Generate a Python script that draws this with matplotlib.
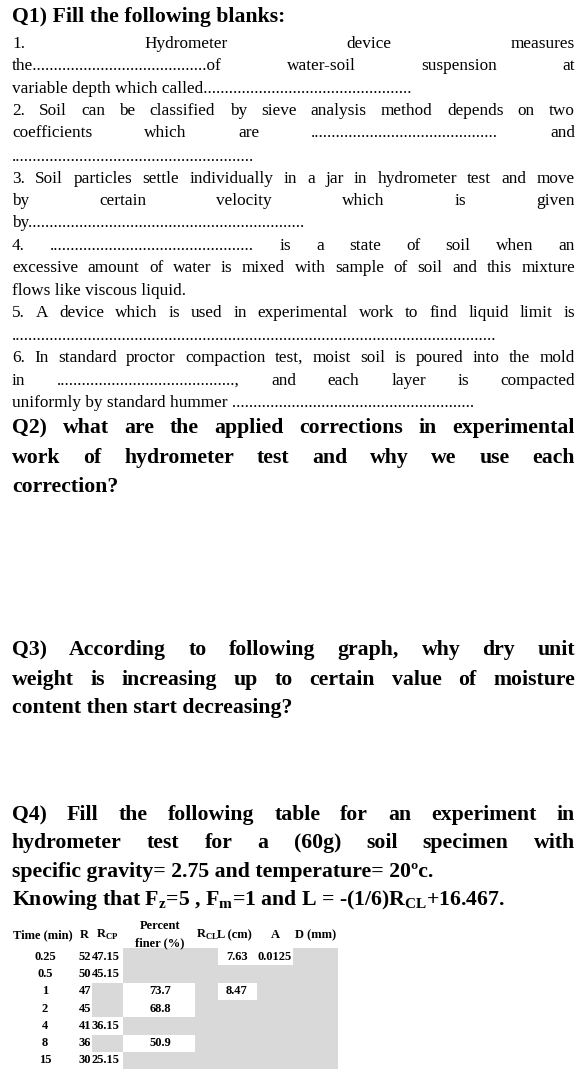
import matplotlib
matplotlib.use("Agg")
import matplotlib.pyplot as plt
from matplotlib.patches import Rectangle

W, H = 580, 1079
fig = plt.figure(figsize=(5.8, 10.79), dpi=100)
FONT = "Liberation Serif"
L, R = 12, 575
BODY, HEAD = 12.4, 15.7

def fy(y): return 1 - y / H
def fx(x): return x / W

r = fig.canvas.get_renderer()

def kwargs(size, bold):
    return dict(fontsize=size, fontfamily=FONT, fontweight="bold" if bold else "normal", va="center")

def width(text, size, bold):
    t = fig.text(0, 0, text, **kwargs(size, bold))
    w = t.get_window_extent(r).width
    t.remove()
    return w

def line(y, text, size=BODY, bold=False, justify=True):
    if not justify:
        fig.text(fx(L), fy(y), text, ha="left", **kwargs(size, bold))
        return
    words = text.split(" ")
    while True:
        ws = [width(w, size, bold) for w in words]
        gap = (R - L - sum(ws)) / max(len(ws) - 1, 1)
        if gap >= 2 or size < 8:
            break
        size -= 0.2
    x = L
    for w, wd in zip(words, ws):
        fig.text(fx(x), fy(y), w, ha="left", **kwargs(size, bold))
        x += wd + gap

def dots_to(prefix, target, size=BODY):
    s = prefix
    while L + width(s + ".", size, False) <= target:
        s += "."
    return s

d = "."
line(17, "Q1) Fill the following blanks:", HEAD, True, False)
line(44, "1. Hydrometer device measures")
line(66, "the" + d*41 + "of water-soil suspension at")
line(89, dots_to("variable depth which called", 415), justify=False)
line(111, "2. Soil can be classified by sieve analysis method depends on two")
line(133, "coefficients which are " + d*44 + " and")
line(157, dots_to("", 258), justify=False)
line(179, "3. Soil particles settle individually in a jar in hydrometer test and move")
line(201, "by certain velocity which is given")
line(223, dots_to("by", 305), justify=False)
line(246, "4. " + d*48 + " is a state of soil when an")
line(268, "excessive amount of water is mixed with sample of soil and this mixture")
line(291, "flows like viscous liquid.", justify=False)
line(313, "5. A device which is used in experimental work to find liquid limit is")
line(336, dots_to("", 497), justify=False)
line(358, "6. In standard proctor compaction test, moist soil is poured into the mold")
line(381, "in " + d*42 + ", and each layer is compacted")
line(403, dots_to("uniformly by standard hummer ", 478), justify=False)
line(428, "Q2) what are the applied corrections in experimental", HEAD, True)
line(458, "work of hydrometer test and why we use each", HEAD, True)
line(487, "correction?", HEAD, True, False)
line(650, "Q3) According to following graph, why dry unit", HEAD, True)
line(680, "weight is increasing up to certain value of moisture", HEAD, True)
line(708, "content then start decreasing?", HEAD, True, False)
line(815, "Q4) Fill the following table for an experiment in", HEAD, True)
line(843, "hydrometer test for a (60g) soil specimen with", HEAD, True)
line(872, "specific gravity= 2.75 and temperature= 20\u00bac.", HEAD, True, False)
fig.text(fx(L), fy(900), r"Knowing that F$_\mathregular{z}$=5 , F$_\mathregular{m}$=1 and L = -(1/6)R$_\mathregular{CL}$+16.467.",
         ha="left", **kwargs(HEAD, True))

# table data
times = ["0.25", "0.5", "1", "2", "4", "8", "15"]
R_vals = ["52", "50", "47", "45", "41", "36", "30"]
Rcp = ["47.15", "45.15", "", "", "36.15", "", "25.15"]
finer = ["", "", "73.7", "68.8", "", "50.9", ""]
Lcm = ["7.63", "", "8.47", "", "", "", ""]
A_vals = ["0.0125", "", "", "", "", "", ""]

cols = [92, 123, 195, 218, 257, 293, 338]
row0, rh = 948, 17.3
grey = "#d9d9d9"
tk = kwargs(9.0, True)
for i in range(len(times)):
    y0 = row0 + i * rh
    filled = [Rcp[i] != "", finer[i] != "", False, Lcm[i] != "", A_vals[i] != "", False]
    for j in range(6):
        if not filled[j]:
            fig.patches.append(Rectangle((fx(cols[j]), fy(y0 + rh)), fx(cols[j+1]-cols[j]), rh / H,
                                         transform=fig.transFigure, facecolor=grey, edgecolor="none", zorder=0))
    yc = y0 + rh / 2
    fig.text(fx(45), fy(yc), times[i], ha="center", **tk)
    fig.text(fx(91), fy(yc), R_vals[i], ha="right", **tk)
    fig.text(fx(92), fy(yc), Rcp[i], ha="left", **tk)
    fig.text(fx(160), fy(yc), finer[i], ha="center", **tk)
    fig.text(fx(237), fy(yc), Lcm[i], ha="center", **tk)
    fig.text(fx(275), fy(yc), A_vals[i], ha="center", **tk)

hk = kwargs(9.0, True)
fig.text(fx(13), fy(935), "Time (min)", ha="left", **hk)
fig.text(fx(80), fy(935), "R", ha="left", **hk)
fig.text(fx(96), fy(935), r"R$_\mathregular{CP}$", ha="left", **hk)
fig.text(fx(160), fy(926), "Percent", ha="center", **hk)
fig.text(fx(160), fy(943), "finer (%)", ha="center", **hk)
fig.text(fx(196), fy(935), r"R$_\mathregular{CL}$", ha="left", **hk)
fig.text(fx(217), fy(935), "L (cm)", ha="left", **hk)
fig.text(fx(275), fy(935), "A", ha="center", **hk)
fig.text(fx(295), fy(935), "D (mm)", ha="left", **hk)

fig.savefig("out.png", dpi=100)
